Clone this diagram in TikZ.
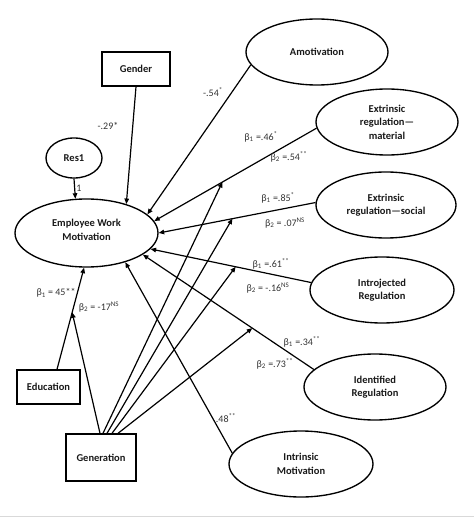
\documentclass[tikz,border=0pt]{standalone}
\usepackage{fontspec}
\setmainfont{Carlito}
\usetikzlibrary{shapes.geometric,arrows.meta}
\definecolor{labgray}{HTML}{333333}
\tikzset{
  ell/.style={ellipse, draw, line width=1.35pt, inner sep=0pt, align=center,
    font=\bfseries\fontsize{10.5}{13.5}\selectfont, text=black!90},
  box/.style={rectangle, draw, line width=1.35pt, inner sep=0pt, align=center,
    font=\bfseries\fontsize{10.5}{13.5}\selectfont, text=black!90},
  conn/.style={line width=1.2pt, -{Triangle[length=5.5pt,width=4.5pt]}},
  lab/.style={font=\fontsize{10}{12}\selectfont, text=labgray, inner sep=0pt}
}
\begin{document}
\begin{tikzpicture}[x=1pt,y=-1pt]
\useasboundingbox (0,0) rectangle (474,518);
\draw[black!15, line width=0.8pt] (0,516) -- (474,516);
% nodes
\node[ell, minimum width=142pt, minimum height=66pt] (amot) at (317,52) {Amotivation};
\node[box, minimum width=68pt, minimum height=34pt] (gender) at (136,69) {Gender};
\node[ell, minimum width=56pt, minimum height=40pt] (res) at (74,158) {Res1};
\node[ell, minimum width=142pt, minimum height=66pt] (extm) at (387,122) {Extrinsic\\regulation—\\material};
\node[ell, minimum width=140pt, minimum height=66pt] (exts) at (386,205) {Extrinsic\\regulation—social};
\node[ell, minimum width=143pt, minimum height=68pt] (ewm) at (86.5,233) {};
\node[align=center, font=\bfseries\fontsize{10.5}{13.5}\selectfont, text=black!90, inner sep=0pt] (ewmtext) at (86.5,230) {Employee Work\\Motivation};
\node[ell, minimum width=144pt, minimum height=66pt] (intro) at (382,290) {Introjected\\Regulation};
\node[ell, minimum width=142pt, minimum height=66pt] (ident) at (375,387) {Identified\\Regulation};
\node[ell, minimum width=144pt, minimum height=66pt] (intr) at (301,464) {Intrinsic\\Motivation};
\node[box, minimum width=63pt, minimum height=34pt] (edu) at (48.5,387) {Education};
\node[box, minimum width=70pt, minimum height=47pt] (gen) at (101,457.5) {Generation};
% direct paths
\draw[conn] (gender.south) -- (ewm.36);
\draw[conn] (res.south) -- (ewm.108);
\draw[conn] (amot.191) -- (ewm.17);
\draw[conn] (extm.185) -- coordinate[pos=0.58] (m2) (ewm.10);
\draw[conn] (exts.178) -- coordinate[pos=0.53] (m3) (ewm.0);
\draw[conn] (intro.174) -- coordinate[pos=0.47] (m4) (ewm.-14);
\draw[conn] (ident.164) -- coordinate[pos=0.36] (m5) (ewm.-21);
\draw[conn] (intr.171) -- (ewm.-37);
\draw[conn] ([xshift=8.5pt]edu.north) -- coordinate[pos=0.56] (m1) (ewm.-94);
% moderation paths from Generation
\draw[conn] ([xshift=-1pt]gen.north) -- (m1);
\draw[conn] ([xshift=2pt]gen.north) -- (m2);
\draw[conn] ([xshift=6pt]gen.north) -- (m3);
\draw[conn] ([xshift=11pt]gen.north) -- (m4);
\draw[conn] ([xshift=17pt]gen.north) -- (m5);
% labels
\node[lab] (l29) at (108,126) {-.29*};
\node[lab] (l54) at (213,92) {-.54\textsuperscript{*}};
\node[lab] (l1) at (79,188) {1};
\node[lab] (lm1) at (261,137) {β\textsubscript{1} =.46\textsuperscript{*}};
\node[lab] (lm2) at (289,157) {β\textsubscript{2} =.54\textsuperscript{**}};
\node[lab] (ls1) at (278,198) {β\textsubscript{1} =.85\textsuperscript{*}};
\node[lab] (ls2) at (285,223) {β\textsubscript{2} = .07\textsuperscript{NS}};
\node[lab] (li1) at (271,264) {β\textsubscript{1} =.61\textsuperscript{**}};
\node[lab] (li2) at (268,288) {β\textsubscript{2} = -.16\textsuperscript{NS}};
\node[lab] (le1) at (56,293) {β\textsubscript{1} = 45**};
\node[lab] (le2) at (99,307) {β\textsubscript{2} = -17\textsuperscript{NS}};
\node[lab] (ld1) at (302,342) {β\textsubscript{1} =.34\textsuperscript{**}};
\node[lab] (ld2) at (275,364) {β\textsubscript{2} =.73\textsuperscript{**}};
\node[lab] (l48) at (226,418) {.48\textsuperscript{**}};
\end{tikzpicture}
\end{document}
